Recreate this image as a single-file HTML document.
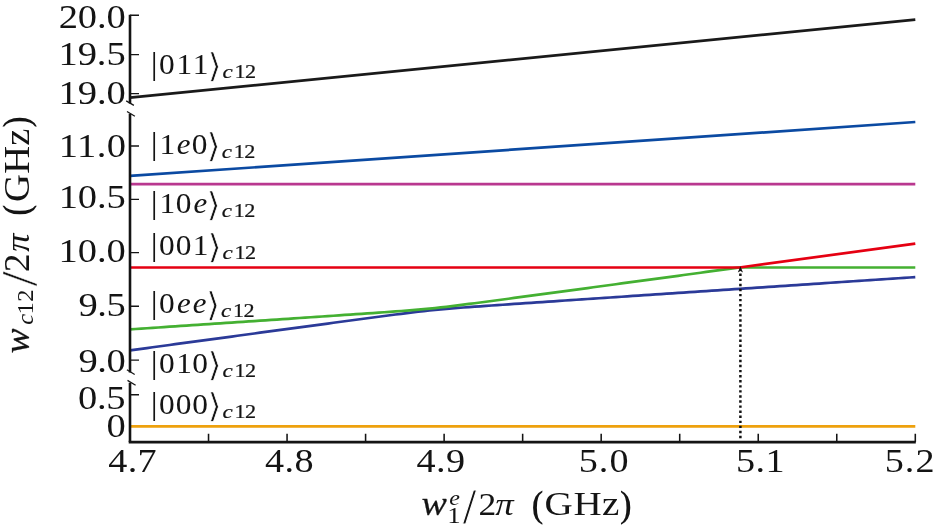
<!DOCTYPE html>
<html lang="en"><head><meta charset="utf-8"><title>Energy levels</title>
<style>html,body{margin:0;padding:0;background:#fff;}body{width:934px;height:528px;overflow:hidden;font-family:"Liberation Serif",serif;}</style>
</head><body>
<svg width="934" height="528" viewBox="0 0 934 528" style="display:block"><line x1="130.00" y1="426.40" x2="915.30" y2="426.40" stroke="#eea10d" stroke-width="2.7" />
<polyline points="130.00,350.34 135.65,349.57 141.30,348.80 146.95,348.04 152.60,347.27 158.25,346.50 163.90,345.74 169.55,344.97 175.20,344.20 180.85,343.44 186.50,342.67 192.15,341.90 197.80,341.14 203.45,340.37 209.09,339.61 214.74,338.84 220.39,338.07 226.04,337.31 231.69,336.54 237.34,335.78 242.99,335.01 248.64,334.24 254.29,333.48 259.94,332.71 265.59,331.95 271.24,331.18 276.89,330.42 282.54,329.65 288.19,328.89 293.84,328.12 299.49,327.36 305.14,326.60 310.79,325.83 316.44,325.07 322.09,324.31 327.74,323.54 333.39,322.78 339.04,322.02 344.69,321.26 350.34,320.50 355.99,319.75 361.64,318.99 367.28,318.23 372.93,317.48 378.58,316.73 384.23,315.99 389.88,315.25 395.53,314.51 401.18,313.79 406.83,313.07 412.48,312.37 418.13,311.70 423.78,311.05 429.43,310.44 435.08,309.87 440.73,309.35 446.38,308.85 452.03,308.39 457.68,307.95 463.33,307.52 468.98,307.11 474.63,306.70 480.28,306.30 485.93,305.90 491.58,305.51 497.23,305.12 502.88,304.73 508.53,304.34 514.18,303.95 519.83,303.57 525.47,303.18 531.12,302.80 536.77,302.42 542.42,302.04 548.07,301.66 553.72,301.28 559.37,300.89 565.02,300.51 570.67,300.14 576.32,299.76 581.97,299.38 587.62,299.00 593.27,298.62 598.92,298.24 604.57,297.86 610.22,297.48 615.87,297.10 621.52,296.73 627.17,296.35 632.82,295.97 638.47,295.59 644.12,295.22 649.77,294.84 655.42,294.46 661.07,294.08 666.72,293.70 672.37,293.33 678.02,292.95 683.66,292.57 689.31,292.20 694.96,291.82 700.61,291.44 706.26,291.06 711.91,290.69 717.56,290.31 723.21,289.93 728.86,289.56 734.51,289.18 740.16,288.80 745.81,288.42 751.46,288.05 757.11,287.67 762.76,287.29 768.41,286.92 774.06,286.54 779.71,286.16 785.36,285.79 791.01,285.41 796.66,285.03 802.31,284.66 807.96,284.28 813.61,283.90 819.26,283.53 824.91,283.15 830.56,282.77 836.21,282.40 841.85,282.02 847.50,281.64 853.15,281.27 858.80,280.89 864.45,280.51 870.10,280.14 875.75,279.76 881.40,279.38 887.05,279.01 892.70,278.63 898.35,278.25 904.00,277.88 909.65,277.50 915.30,277.12" fill="none" stroke="#2b3a98" stroke-width="2.7" stroke-linejoin="round"/>
<polyline points="130.00,329.36 135.65,328.98 141.30,328.61 146.95,328.23 152.60,327.85 158.25,327.48 163.90,327.10 169.55,326.72 175.20,326.34 180.85,325.97 186.50,325.59 192.15,325.21 197.80,324.84 203.45,324.46 209.09,324.08 214.74,323.70 220.39,323.32 226.04,322.95 231.69,322.57 237.34,322.19 242.99,321.81 248.64,321.44 254.29,321.06 259.94,320.68 265.59,320.30 271.24,319.92 276.89,319.54 282.54,319.16 288.19,318.78 293.84,318.40 299.49,318.02 305.14,317.64 310.79,317.26 316.44,316.88 322.09,316.50 327.74,316.12 333.39,315.74 339.04,315.35 344.69,314.97 350.34,314.59 355.99,314.20 361.64,313.81 367.28,313.42 372.93,313.03 378.58,312.64 384.23,312.24 389.88,311.84 395.53,311.43 401.18,311.01 406.83,310.58 412.48,310.13 418.13,309.67 423.78,309.17 429.43,308.63 435.08,308.06 440.73,307.44 446.38,306.79 452.03,306.11 457.68,305.40 463.33,304.69 468.98,303.96 474.63,303.22 480.28,302.48 485.93,301.74 491.58,300.99 497.23,300.23 502.88,299.48 508.53,298.72 514.18,297.96 519.83,297.20 525.47,296.44 531.12,295.68 536.77,294.92 542.42,294.16 548.07,293.40 553.72,292.63 559.37,291.87 565.02,291.11 570.67,290.34 576.32,289.58 581.97,288.81 587.62,288.05 593.27,287.28 598.92,286.52 604.57,285.75 610.22,284.99 615.87,284.22 621.52,283.46 627.17,282.69 632.82,281.92 638.47,281.16 644.12,280.39 649.77,279.62 655.42,278.86 661.07,278.09 666.72,277.33 672.37,276.56 678.02,275.79 683.66,275.03 689.31,274.26 694.96,273.49 700.61,272.73 706.26,271.96 711.91,271.19 717.56,270.43 723.21,269.66 728.86,268.89 734.51,268.13 739.40,267.50 915.30,267.50" fill="none" stroke="#44b032" stroke-width="2.7" stroke-linejoin="round"/>
<polyline points="130.00,267.50 739.40,267.50 915.30,243.60" fill="none" stroke="#e50012" stroke-width="2.7" stroke-linejoin="round"/>
<line x1="130.00" y1="184.10" x2="915.30" y2="184.10" stroke="#b9388f" stroke-width="2.7" />
<line x1="130.00" y1="175.90" x2="915.30" y2="122.00" stroke="#0b4aa2" stroke-width="2.7" />
<line x1="130.00" y1="97.60" x2="915.30" y2="19.60" stroke="#1a1a1a" stroke-width="2.7" />
<line x1="740.4" y1="273.6" x2="740.4" y2="439" stroke="#111" stroke-width="2.5" stroke-dasharray="2.4 2.67"/>
<path d="M740.4,266.2 L743.0,272.6 L740.4,271.0 L737.8,272.6 Z" fill="#111"/>
<g stroke="#141414" fill="none">
<path d="M130.0,14.649999999999999 V103.4 M130.0,113.7 V372.4 M130.0,382.8 V442.1" stroke-width="2.6"/>
<path d="M128.7,442.1 H915.8" stroke-width="2.6"/>
<path d="M126.2,100.9 L133.9,105.4" stroke-width="1.25"/>
<path d="M127.0,111.5 L134.9,116.2" stroke-width="1.25"/>
<path d="M126.9,369.8 L134.7,374.5" stroke-width="1.25"/>
<path d="M127.5,380.4 L135.6,385.3" stroke-width="1.25"/>
<path d="M130.0,15.2 H139 M130.0,54.6 H139 M130.0,93.6 H139 M130.0,146.0 H139 M130.0,199.4 H139 M130.0,252.6 H139 M130.0,306.2 H139 M130.0,360.1 H139 M130.0,394.7 H139" stroke-width="1.4"/>
<path d="M208.53,442.1 V433.8 M287.06,442.1 V433.8 M365.59,442.1 V433.8 M444.12,442.1 V433.8 M522.65,442.1 V433.8 M601.18,442.1 V433.8 M679.71,442.1 V433.8 M758.24,442.1 V433.8 M836.77,442.1 V433.8 M915.30,442.1 V433.8" stroke-width="1.55"/>
</g>
<text transform="translate(58.66,28.00) scale(1.1200,1)" font-family='"Liberation Serif", "DejaVu Serif", serif' font-style="normal" font-size="34.40" letter-spacing="-0.102" fill="#141414">20.0</text>
<text transform="translate(58.43,65.00) scale(1.1200,1)" font-family='"Liberation Serif", "DejaVu Serif", serif' font-style="normal" font-size="34.40" letter-spacing="-0.034" fill="#141414">19.5</text>
<text transform="translate(58.43,104.00) scale(1.1200,1)" font-family='"Liberation Serif", "DejaVu Serif", serif' font-style="normal" font-size="34.40" letter-spacing="-0.005" fill="#141414">19.0</text>
<text transform="translate(58.73,157.00) scale(1.1200,1)" font-family='"Liberation Serif", "DejaVu Serif", serif' font-style="normal" font-size="34.40" letter-spacing="0.365" fill="#141414">11.0</text>
<text transform="translate(58.73,208.00) scale(1.1200,1)" font-family='"Liberation Serif", "DejaVu Serif", serif' font-style="normal" font-size="34.40" letter-spacing="-0.124" fill="#141414">10.5</text>
<text transform="translate(58.43,262.00) scale(1.1200,1)" font-family='"Liberation Serif", "DejaVu Serif", serif' font-style="normal" font-size="34.40" letter-spacing="-0.005" fill="#141414">10.0</text>
<text transform="translate(78.44,316.00) scale(1.1200,1)" font-family='"Liberation Serif", "DejaVu Serif", serif' font-style="normal" font-size="34.40" letter-spacing="-0.385" fill="#141414">9.5</text>
<text transform="translate(78.44,372.00) scale(1.1200,1)" font-family='"Liberation Serif", "DejaVu Serif", serif' font-style="normal" font-size="34.40" letter-spacing="-0.341" fill="#141414">9.0</text>
<text transform="translate(78.06,409.00) scale(1.1200,1)" font-family='"Liberation Serif", "DejaVu Serif", serif' font-style="normal" font-size="34.40" letter-spacing="-0.258" fill="#141414">0.5</text>
<text transform="translate(106.56,437.00) scale(1.1200,1)" font-family='"Liberation Serif", "DejaVu Serif", serif' font-style="normal" font-size="34.40" letter-spacing="0.000" fill="#141414">0</text>
<text transform="translate(108.24,472.00) scale(1.1200,1)" font-family='"Liberation Serif", "DejaVu Serif", serif' font-style="normal" font-size="34.10" letter-spacing="0.299" fill="#141414">4.7</text>
<text transform="translate(264.94,472.00) scale(1.1200,1)" font-family='"Liberation Serif", "DejaVu Serif", serif' font-style="normal" font-size="34.10" letter-spacing="0.380" fill="#141414">4.8</text>
<text transform="translate(416.44,472.00) scale(1.1200,1)" font-family='"Liberation Serif", "DejaVu Serif", serif' font-style="normal" font-size="34.10" letter-spacing="0.380" fill="#141414">4.9</text>
<text transform="translate(578.71,472.00) scale(1.1200,1)" font-family='"Liberation Serif", "DejaVu Serif", serif' font-style="normal" font-size="34.10" letter-spacing="0.928" fill="#141414">5.0</text>
<text transform="translate(736.01,472.00) scale(1.1200,1)" font-family='"Liberation Serif", "DejaVu Serif", serif' font-style="normal" font-size="34.10" letter-spacing="0.332" fill="#141414">5.1</text>
<text transform="translate(884.71,472.00) scale(1.1200,1)" font-family='"Liberation Serif", "DejaVu Serif", serif' font-style="normal" font-size="34.10" letter-spacing="0.957" fill="#141414">5.2</text>
<g><text transform=" scale(1.0900,1)" fill="#141414"><tspan x="138.21" y="74.00" font-family='"Liberation Serif", "DejaVu Serif", serif' font-style="normal" font-size="31.67">|</tspan><tspan x="145.82 162.00 176.95" y="74.00" font-family='"Liberation Serif", "DejaVu Serif", serif' font-style="normal" font-size="28.80">011</tspan><tspan x="190.36" y="77.40" font-family='"DejaVu Sans", "Liberation Serif", sans-serif' font-style="normal" font-size="33.37" stroke="#fff" stroke-width="0.65">⟩</tspan></text><text transform=" scale(1.2000,1)" fill="#141414"><tspan x="185.51" y="78.00" font-family='"Liberation Serif", "DejaVu Serif", serif' font-style="italic" font-size="19.24" stroke="#141414" stroke-width="0.2">c</tspan><tspan x="195.50 204.26" y="78.00" font-family='"Liberation Serif", "DejaVu Serif", serif' font-style="normal" font-size="18.50" stroke="#141414" stroke-width="0.2">12</tspan></text></g>
<g><text transform=" scale(1.0900,1)" fill="#141414"><tspan x="138.21" y="154.00" font-family='"Liberation Serif", "DejaVu Serif", serif' font-style="normal" font-size="31.67">|</tspan><tspan x="146.31" y="154.00" font-family='"Liberation Serif", "DejaVu Serif", serif' font-style="normal" font-size="28.80">1</tspan><tspan x="162.18" y="154.00" font-family='"Liberation Serif", "DejaVu Serif", serif' font-style="italic" font-size="28.40">e</tspan><tspan x="176.00" y="154.00" font-family='"Liberation Serif", "DejaVu Serif", serif' font-style="normal" font-size="28.80">0</tspan><tspan x="189.53" y="157.40" font-family='"DejaVu Sans", "Liberation Serif", sans-serif' font-style="normal" font-size="33.37" stroke="#fff" stroke-width="0.65">⟩</tspan></text><text transform=" scale(1.2000,1)" fill="#141414"><tspan x="184.76" y="158.00" font-family='"Liberation Serif", "DejaVu Serif", serif' font-style="italic" font-size="19.24" stroke="#141414" stroke-width="0.2">c</tspan><tspan x="194.75 203.51" y="158.00" font-family='"Liberation Serif", "DejaVu Serif", serif' font-style="normal" font-size="18.50" stroke="#141414" stroke-width="0.2">12</tspan></text></g>
<g><text transform=" scale(1.0900,1)" fill="#141414"><tspan x="138.21" y="213.00" font-family='"Liberation Serif", "DejaVu Serif", serif' font-style="normal" font-size="31.67">|</tspan><tspan x="146.31 161.33" y="213.00" font-family='"Liberation Serif", "DejaVu Serif", serif' font-style="normal" font-size="28.80">10</tspan><tspan x="177.50" y="213.00" font-family='"Liberation Serif", "DejaVu Serif", serif' font-style="italic" font-size="28.40">e</tspan><tspan x="189.53" y="216.40" font-family='"DejaVu Sans", "Liberation Serif", sans-serif' font-style="normal" font-size="33.37" stroke="#fff" stroke-width="0.65">⟩</tspan></text><text transform=" scale(1.2000,1)" fill="#141414"><tspan x="184.76" y="217.00" font-family='"Liberation Serif", "DejaVu Serif", serif' font-style="italic" font-size="19.24" stroke="#141414" stroke-width="0.2">c</tspan><tspan x="194.75 203.51" y="217.00" font-family='"Liberation Serif", "DejaVu Serif", serif' font-style="normal" font-size="18.50" stroke="#141414" stroke-width="0.2">12</tspan></text></g>
<g><text transform=" scale(1.0900,1)" fill="#141414"><tspan x="138.21" y="255.00" font-family='"Liberation Serif", "DejaVu Serif", serif' font-style="normal" font-size="31.67">|</tspan><tspan x="145.82 161.14 176.95" y="255.00" font-family='"Liberation Serif", "DejaVu Serif", serif' font-style="normal" font-size="28.80">001</tspan><tspan x="190.36" y="258.40" font-family='"DejaVu Sans", "Liberation Serif", sans-serif' font-style="normal" font-size="33.37" stroke="#fff" stroke-width="0.65">⟩</tspan></text><text transform=" scale(1.2000,1)" fill="#141414"><tspan x="185.51" y="259.00" font-family='"Liberation Serif", "DejaVu Serif", serif' font-style="italic" font-size="19.24" stroke="#141414" stroke-width="0.2">c</tspan><tspan x="195.50 204.26" y="259.00" font-family='"Liberation Serif", "DejaVu Serif", serif' font-style="normal" font-size="18.50" stroke="#141414" stroke-width="0.2">12</tspan></text></g>
<g><text transform=" scale(1.0900,1)" fill="#141414"><tspan x="138.21" y="313.00" font-family='"Liberation Serif", "DejaVu Serif", serif' font-style="normal" font-size="31.67">|</tspan><tspan x="145.82" y="313.00" font-family='"Liberation Serif", "DejaVu Serif", serif' font-style="normal" font-size="28.80">0</tspan><tspan x="162.45 176.76" y="313.00" font-family='"Liberation Serif", "DejaVu Serif", serif' font-style="italic" font-size="28.40">ee</tspan><tspan x="188.89" y="316.40" font-family='"DejaVu Sans", "Liberation Serif", sans-serif' font-style="normal" font-size="33.37" stroke="#fff" stroke-width="0.65">⟩</tspan></text><text transform=" scale(1.2000,1)" fill="#141414"><tspan x="184.17" y="317.00" font-family='"Liberation Serif", "DejaVu Serif", serif' font-style="italic" font-size="19.24" stroke="#141414" stroke-width="0.2">c</tspan><tspan x="194.17 202.93" y="317.00" font-family='"Liberation Serif", "DejaVu Serif", serif' font-style="normal" font-size="18.50" stroke="#141414" stroke-width="0.2">12</tspan></text></g>
<g><text transform=" scale(1.0900,1)" fill="#141414"><tspan x="138.21" y="373.00" font-family='"Liberation Serif", "DejaVu Serif", serif' font-style="normal" font-size="31.67">|</tspan><tspan x="145.82 161.81 176.46" y="373.00" font-family='"Liberation Serif", "DejaVu Serif", serif' font-style="normal" font-size="28.80">010</tspan><tspan x="190.36" y="376.40" font-family='"DejaVu Sans", "Liberation Serif", sans-serif' font-style="normal" font-size="33.37" stroke="#fff" stroke-width="0.65">⟩</tspan></text><text transform=" scale(1.2000,1)" fill="#141414"><tspan x="185.51" y="377.00" font-family='"Liberation Serif", "DejaVu Serif", serif' font-style="italic" font-size="19.24" stroke="#141414" stroke-width="0.2">c</tspan><tspan x="195.50 204.26" y="377.00" font-family='"Liberation Serif", "DejaVu Serif", serif' font-style="normal" font-size="18.50" stroke="#141414" stroke-width="0.2">12</tspan></text></g>
<g><text transform=" scale(1.0900,1)" fill="#141414"><tspan x="138.21" y="414.00" font-family='"Liberation Serif", "DejaVu Serif", serif' font-style="normal" font-size="31.67">|</tspan><tspan x="145.82 161.14 176.46" y="414.00" font-family='"Liberation Serif", "DejaVu Serif", serif' font-style="normal" font-size="28.80">000</tspan><tspan x="190.36" y="417.40" font-family='"DejaVu Sans", "Liberation Serif", sans-serif' font-style="normal" font-size="33.37" stroke="#fff" stroke-width="0.65">⟩</tspan></text><text transform=" scale(1.2000,1)" fill="#141414"><tspan x="185.51" y="418.00" font-family='"Liberation Serif", "DejaVu Serif", serif' font-style="italic" font-size="19.24" stroke="#141414" stroke-width="0.2">c</tspan><tspan x="195.50 204.26" y="418.00" font-family='"Liberation Serif", "DejaVu Serif", serif' font-style="normal" font-size="18.50" stroke="#141414" stroke-width="0.2">12</tspan></text></g>
<text transform=" scale(1.1300,1)" fill="#141414"><tspan x="373.06" y="515.00" font-family='"Liberation Serif", "DejaVu Serif", serif' font-style="italic" font-size="33.73" stroke="#1c1c1c" stroke-width="0.25">w</tspan><tspan x="397.59" y="505.00" font-family='"Liberation Serif", "DejaVu Serif", serif' font-style="italic" font-size="21.30">e</tspan><tspan x="395.91" y="523.00" font-family='"Liberation Serif", "DejaVu Serif", serif' font-style="normal" font-size="23.80">1</tspan><tspan x="409.20" y="520.09" font-family='"DejaVu Serif Condensed", "DejaVu Serif", "Liberation Serif", serif' font-style="normal" font-size="41.23" stroke="#fff" stroke-width="0.95">/</tspan><tspan x="423.43" y="515.00" font-family='"Liberation Serif", "DejaVu Serif", serif' font-style="normal" font-size="31.49">2</tspan><tspan x="438.35" y="515.00" font-family='"Liberation Serif", "DejaVu Serif", serif' font-style="italic" font-size="32.52">π</tspan><tspan x="463.93 468.93" y="518.58" font-family='"DejaVu Serif Condensed", "DejaVu Serif", "Liberation Serif", serif' font-style="normal" font-size="38.11"> (</tspan><tspan x="481.98 507.63 532.77" y="515.00" font-family='"Liberation Serif", "DejaVu Serif", serif' font-style="normal" font-size="34.60">GHz</tspan><tspan x="547.18" y="518.58" font-family='"DejaVu Serif Condensed", "DejaVu Serif", "Liberation Serif", serif' font-style="normal" font-size="38.11">)</tspan></text>
<text transform="translate(0,352.4) rotate(-90) scale(1.0600,1)" fill="#141414"><tspan x="-1.06" y="28.70" font-family='"Liberation Serif", "DejaVu Serif", serif' font-style="italic" font-size="35.49" stroke="#1c1c1c" stroke-width="0.25">w</tspan><tspan x="26.10" y="33.20" font-family='"Liberation Serif", "DejaVu Serif", serif' font-style="italic" font-size="23.20">c</tspan><tspan x="35.65 47.75" y="33.20" font-family='"Liberation Serif", "DejaVu Serif", serif' font-style="normal" font-size="23.20">12</tspan><tspan x="62.45" y="35.89" font-family='"Liberation Serif", "DejaVu Serif", serif' font-style="normal" font-size="50.61" stroke="#fff" stroke-width="0.5">/</tspan><tspan x="75.55" y="28.70" font-family='"Liberation Serif", "DejaVu Serif", serif' font-style="normal" font-size="35.67">2</tspan><tspan x="94.94" y="28.70" font-family='"Liberation Serif", "DejaVu Serif", serif' font-style="italic" font-size="34.22">π</tspan><tspan x="122.52 127.52" y="31.38" font-family='"DejaVu Serif Condensed", "DejaVu Serif", "Liberation Serif", serif' font-style="normal" font-size="38.11"> (</tspan><tspan x="141.85 168.62 195.04" y="28.70" font-family='"Liberation Serif", "DejaVu Serif", serif' font-style="normal" font-size="36.40">GHz</tspan><tspan x="210.73" y="31.38" font-family='"DejaVu Serif Condensed", "DejaVu Serif", "Liberation Serif", serif' font-style="normal" font-size="38.11">)</tspan></text></svg>
</body></html>
